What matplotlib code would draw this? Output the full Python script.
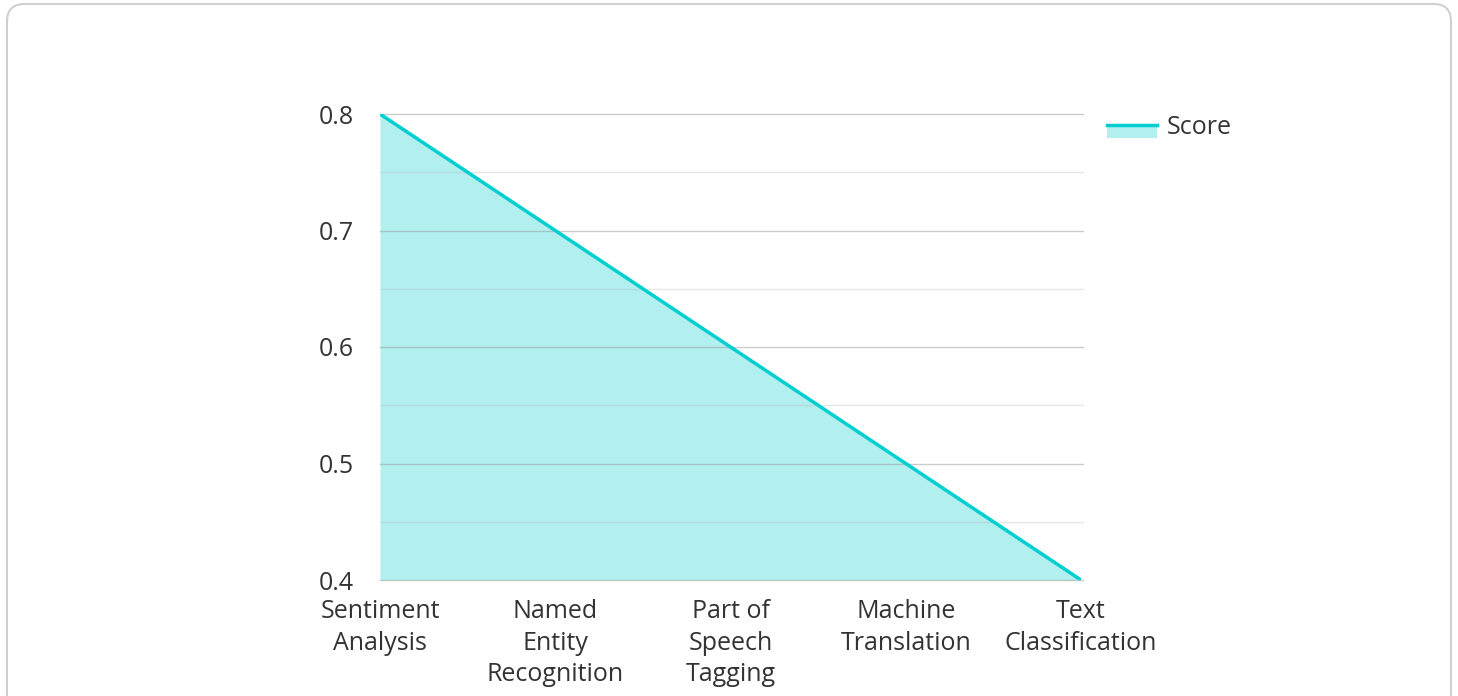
import matplotlib
matplotlib.use("Agg")
import matplotlib.pyplot as plt
from matplotlib.patches import FancyBboxPatch, Rectangle, Patch
from matplotlib.lines import Line2D
from matplotlib.legend_handler import HandlerBase

plt.rcParams['font.family'] = ['Open Sans', 'DejaVu Sans']

tasks = ["Sentiment\nAnalysis", "Named\nEntity\nRecognition", "Part of\nSpeech\nTagging",
         "Machine\nTranslation", "Text\nClassification"]
scores = [0.8, 0.7, 0.6, 0.5, 0.4]
major_ticks = [0.4, 0.5, 0.6, 0.7, 0.8]
minor_ticks = [0.45, 0.55, 0.65, 0.75]

LINE = "#00CED1"
FILL = "#B2EFEF"
TEXT = "#333333"


class AreaHandler(HandlerBase):
    # legend swatch: line on top, light fill under it
    def create_artists(self, legend, orig, xd, yd, w, h, fontsize, trans):
        r = Rectangle((xd, yd - 0.25 * h), w, h * 0.75, facecolor=FILL, edgecolor="none", transform=trans)
        ln = Line2D([xd, xd + w], [yd + 0.5 * h, yd + 0.5 * h], color=LINE, lw=2.5, transform=trans)
        return [r, ln]


fig = plt.figure(figsize=(14.58, 6.96), dpi=100)
border = FancyBboxPatch((7 / 1458, -0.05), 1444 / 1458, 0.05 + 692 / 696,
                        boxstyle="round,pad=0,rounding_size=0.012", transform=fig.transFigure,
                        facecolor="none", edgecolor="#d0d0d0", lw=1.5, mutation_aspect=1458 / 696,
                        zorder=-1)
fig.patches.append(border)

ax = fig.add_axes([380 / 1458, 1 - 580 / 696, 701 / 1458, 466 / 696])
ax.set_facecolor("none")
x = list(range(len(tasks)))
ax.fill_between(x, scores, 0.4, color=FILL, lw=0, zorder=1)
ax.plot(x, scores, color=LINE, lw=2.5, zorder=3, solid_capstyle="round")

ax.set_xlim(0, len(tasks) - 1)
ax.set_ylim(0.4, 0.8)
ax.set_yticks(major_ticks)
ax.set_yticks(minor_ticks, minor=True)
ax.set_yticklabels([f"{v:.1f}" for v in major_ticks])
ax.set_xticks(x)
ax.set_xticklabels(tasks, linespacing=1.33)

for v in major_ticks:
    ax.axhline(v, color="#999999", alpha=0.5, lw=1, zorder=2, xmax=1.003, clip_on=False)
for v in minor_ticks:
    ax.axhline(v, color="#bbbbbb", alpha=0.35, lw=1, zorder=2, xmax=1.003, clip_on=False)

for s in ax.spines.values():
    s.set_visible(False)
ax.tick_params(axis="both", which="both", length=0, colors=TEXT, labelsize=18)
ax.tick_params(axis="y", pad=19)
ax.tick_params(axis="x", pad=14)

leg = ax.legend(handles=[Patch(label="Score")], handler_map={Patch: AreaHandler()},
                loc="upper left", frameon=False,
                fontsize=18, labelcolor=TEXT, handlelength=2.0, handletextpad=0.4,
                borderaxespad=0, borderpad=0)
leg.set_bbox_to_anchor((1107 / 1458, 1 - 115 / 696), transform=fig.transFigure)

fig.savefig("out.png", dpi=100)
